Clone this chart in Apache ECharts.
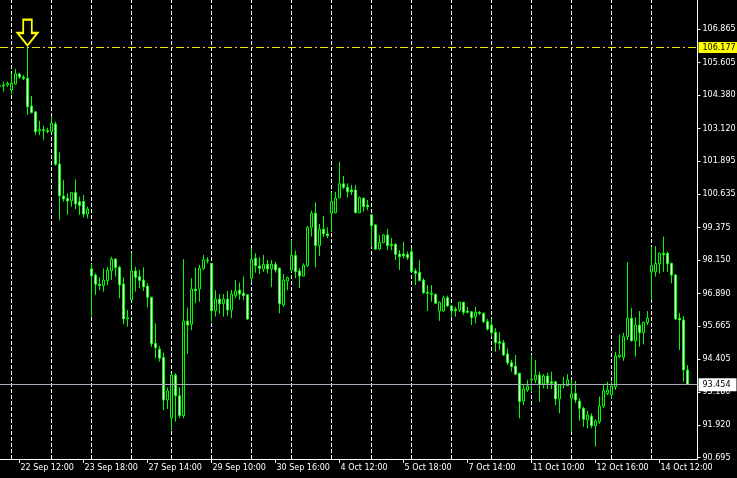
<!DOCTYPE html>
<html><head><meta charset="utf-8">
<script src="https://cdn.jsdelivr.net/npm/echarts@6/dist/echarts.min.js"></script>
<style>html,body{margin:0;padding:0;background:#000;}#c{width:737px;height:478px;}</style>
</head><body><div id="c"></div>
<script>
const opens = [104.74,104.72,104.76,104.57,104.80,105.18,105.06,105.02,103.97,103.75,103.03,103.08,103.04,103.00,103.29,101.78,100.57,100.49,100.39,100.70,100.36,100.36,99.89,
97.82,97.59,97.24,97.19,97.38,97.75,98.19,97.88,97.25,95.93,96.65,97.74,97.53,97.40,97.17,96.75,95.01,94.79,94.48,92.87,92.20,93.81,93.03,92.28,95.85,95.73,97.06,97.06,
97.84,98.16,98.03,96.24,96.68,96.52,96.68,96.27,96.81,97.02,96.90,96.84,97.47,98.22,97.93,97.81,97.99,97.82,97.99,97.84,96.46,97.36,97.78,98.33,97.74,97.55,97.94,99.39,
99.92,98.70,99.32,99.14,99.92,99.94,100.51,101.03,100.90,100.80,100.80,99.94,100.49,100.23,99.86,99.48,98.57,98.81,99.10,98.75,98.75,98.38,98.38,98.37,98.47,97.74,97.69,
97.40,96.94,96.90,96.86,96.23,96.23,96.73,96.42,96.30,96.27,96.56,96.23,96.20,96.02,96.18,96.14,95.83,95.70,95.43,95.07,95.03,94.61,94.28,94.15,93.88,92.83,93.25,93.63,
93.63,93.81,93.47,93.78,93.56,93.56,92.91,93.46,93.41,92.94,93.12,92.83,92.56,92.12,92.27,91.90,92.05,92.64,93.12,93.06,93.37,94.51,94.48,95.26,95.96,95.11,95.70,95.41,
95.80,97.71,97.71,98.01,98.41,98.41,98.03,97.59,95.96,95.89,94.00];
const closes = [104.72,104.76,104.82,104.83,105.18,105.06,105.01,103.94,103.72,103.00,103.08,103.04,103.01,103.32,101.77,100.58,100.46,100.38,100.70,100.27,100.21,99.89,100.08,
97.56,97.24,97.19,97.40,97.78,98.19,97.87,97.21,95.93,95.98,97.74,97.50,97.38,97.15,96.75,94.99,94.85,94.45,92.87,93.22,93.81,93.03,92.28,95.85,95.70,97.06,97.00,97.84,
98.16,98.13,96.24,96.68,96.50,96.68,96.27,96.87,96.99,96.87,96.81,95.93,98.18,97.94,97.84,97.99,97.82,97.99,97.78,96.50,97.40,97.49,98.33,97.71,97.55,97.96,99.39,99.92,
98.70,99.32,99.14,99.07,100.36,100.49,101.03,100.90,100.73,100.73,99.94,100.51,100.17,100.17,99.45,98.57,98.82,99.10,98.70,98.70,98.37,98.28,98.31,98.24,97.71,97.65,97.38,
96.92,96.90,96.86,96.52,96.56,96.73,96.42,96.24,96.24,96.56,96.18,96.18,95.98,96.18,96.14,95.83,95.55,95.41,95.03,95.01,94.57,94.28,94.13,93.84,92.81,93.29,93.40,93.66,
93.81,93.47,93.78,93.50,93.50,92.91,93.44,93.44,93.63,93.10,92.87,92.56,92.14,92.31,91.90,92.08,92.64,93.22,93.25,93.40,94.53,94.57,95.26,95.96,95.11,95.70,95.41,95.80,
95.96,97.94,98.03,98.41,98.35,98.01,97.59,95.93,95.89,94.00,93.454];
const lows = [104.69,104.51,104.69,104.42,104.78,105.00,104.95,103.63,103.69,102.87,102.87,102.69,102.94,102.96,101.72,99.67,100.36,99.86,100.17,100.07,99.86,99.77,99.73,
96.02,96.84,97.02,96.96,97.21,97.40,97.53,96.71,95.74,95.64,96.65,96.96,97.09,96.99,96.37,94.88,94.45,94.32,92.49,92.53,91.74,92.05,92.18,92.18,94.60,95.51,96.52,96.58,
97.78,98.03,95.83,96.02,96.12,96.02,96.05,95.96,96.71,96.65,96.65,95.89,97.34,97.68,97.63,97.71,97.65,97.13,97.68,96.14,96.39,97.02,97.70,97.47,97.09,97.53,97.90,99.04,
97.88,98.31,99.01,98.98,99.22,99.92,100.49,100.83,100.52,100.61,99.92,99.92,99.98,100.04,98.66,98.53,98.53,98.79,98.53,98.53,98.16,97.78,98.22,98.16,97.69,97.21,97.34,
96.87,96.23,96.58,96.50,95.86,96.20,96.39,96.02,96.02,96.20,96.08,96.14,95.70,95.77,96.08,95.77,95.49,95.26,94.69,94.76,94.53,94.19,93.94,93.81,92.18,92.68,93.18,93.18,
93.50,92.81,93.31,93.28,93.28,92.68,92.37,93.31,93.40,91.66,92.75,92.09,91.86,91.80,91.80,91.11,91.97,92.56,93.06,92.94,93.25,94.45,94.35,95.14,95.07,94.51,94.88,94.97,
95.70,96.65,97.53,97.65,97.71,97.71,97.28,95.89,94.76,93.56,93.43];
const highs = [104.80,104.89,104.89,105.18,105.37,105.23,105.14,106.177,104.35,103.75,103.41,103.23,103.15,103.57,103.38,102.22,101.18,100.67,100.70,101.20,100.55,100.61,100.17,
98.01,97.65,97.50,97.84,97.90,98.28,98.22,97.94,97.50,96.27,98.41,97.90,97.78,97.88,97.28,96.77,95.77,94.91,94.66,93.34,93.88,93.88,93.35,98.19,96.36,97.47,97.87,97.97,
98.35,98.26,98.03,97.02,96.87,96.87,96.99,97.02,97.40,97.31,97.53,96.87,98.60,98.41,98.26,98.35,98.16,98.16,98.09,97.88,97.63,97.53,98.91,98.51,97.84,98.03,99.44,100.02,
100.33,99.52,99.82,99.39,100.73,100.73,101.87,101.33,101.05,100.99,100.99,100.55,100.51,100.42,99.88,99.52,99.10,99.14,99.33,98.98,98.79,98.53,98.85,98.47,98.62,97.84,98.16,
97.47,97.21,97.21,96.90,96.58,96.81,96.81,96.46,96.39,96.58,96.58,96.39,96.23,96.39,96.23,96.18,95.93,95.93,95.58,95.43,95.14,94.82,94.38,94.57,93.90,93.46,93.63,94.57,
94.38,93.94,93.85,93.90,93.94,93.59,93.47,93.75,93.85,93.63,93.59,92.94,92.62,92.46,92.37,92.14,93.00,93.44,93.56,93.56,94.69,95.33,95.41,98.07,96.34,95.99,96.23,95.83,
96.23,98.66,98.68,98.43,99.04,98.47,98.05,97.63,96.16,96.04,94.19];

// time labels and the candle index each one sits on
const timeLabels = ['22 Sep 12:00','23 Sep 18:00','27 Sep 14:00','29 Sep 10:00','30 Sep 16:00','4 Oct 12:00','5 Oct 18:00','7 Oct 14:00','11 Oct 10:00','12 Oct 16:00','14 Oct 12:00'];
const timeLabelIdx = [5,21,37,53,69,85,101,117,133,149,165];
// vertical grid candle indices
const vGridIdx = [3,13,23,33,43,53,63,73,83,93,103,113,123,133,143,153,163];
// price scale ticks
const priceTicks = [90.695,91.920,93.180,94.405,95.665,96.890,98.150,99.375,100.635,101.895,103.120,104.380,105.605,106.865];
const highMark = 106.177;
const bidPrice = 93.454;
const highIdx = 7;

const ohlc = opens.map((o, i) => [i, o, closes[i], lows[i], highs[i]]);
const labelOf = {};
timeLabelIdx.forEach((k, j) => { labelOf[k] = timeLabels[j]; });

const FONT = 'DejaVu Sans';
const chart = echarts.init(document.getElementById('c'), null, {renderer: 'canvas'});
chart.setOption({
  backgroundColor: '#000000',
  animation: false,
  grid: {left: 0, right: 39.5, top: 0, bottom: 19, containLabel: false, outerBoundsMode: 'none'},
  xAxis: {
    type: 'value', min: 0.125, max: 174.5,
    axisLine: {show: true, onZero: false, lineStyle: {color: '#ffffff', width: 1}},
    axisTick: {show: true, customValues: timeLabelIdx, length: 4, lineStyle: {color: '#ffffff'}},
    axisLabel: {show: true, customValues: timeLabelIdx, formatter: v => labelOf[Math.round(v)] || '', color: '#ffffff', fontFamily: FONT, fontSize: 8, align: 'left', margin: 5, padding: [0, 0, 0, 1]},
    splitLine: {show: false}
  },
  yAxis: {
    type: 'value', position: 'right', min: 90.644, max: 107.971,
    axisLine: {show: true, onZero: false, lineStyle: {color: '#ffffff', width: 1}},
    axisTick: {show: true, customValues: priceTicks, length: 3, inside: false, lineStyle: {color: '#ffffff'}},
    axisLabel: {show: true, customValues: priceTicks, formatter: v => v.toFixed(3), color: '#ffffff', fontFamily: FONT, fontSize: 8, margin: 5},
    splitLine: {show: false}
  },
  series: [
    {
      type: 'line', data: [], z: 1, silent: true,
      markLine: {
        z: 1, silent: true, symbol: ['none', 'none'], animation: false,
        label: {show: false},
        lineStyle: {color: '#ffffff', type: [4, 2], width: 1},
        emphasis: {disabled: true},
        data: vGridIdx.map(i => ({xAxis: i}))
      }
    },
    {
      type: 'candlestick', data: ohlc, z: 3, barWidth: 2,
      dimensions: ['idx', 'open', 'close', 'lowest', 'highest'],
      encode: {x: 'idx', y: ['open', 'close', 'lowest', 'highest']},
      itemStyle: {color: '#000000', color0: '#ffffff', borderColor: '#00ff00', borderColor0: '#00ff00', borderColorDoji: '#00ff00', borderWidth: 1},
      markLine: {
        z: 5, silent: true, symbol: ['none', 'none'], animation: false,
        emphasis: {disabled: true},
        data: [
          {yAxis: highMark, lineStyle: {color: '#e6e600', type: [8, 3, 2, 3], width: 1},
            label: {show: true, position: 'end', distance: 1, formatter: highMark.toFixed(3), color: '#000000', backgroundColor: '#ffff00', padding: [2, 4, 1, 4], fontFamily: FONT, fontSize: 8}},
          {yAxis: bidPrice, lineStyle: {color: '#a3adbd', type: 'solid', width: 1},
            label: {show: true, position: 'end', distance: 1, formatter: bidPrice.toFixed(3), color: '#000000', backgroundColor: '#ffffff', padding: [3, 6, 2, 4], fontFamily: FONT, fontSize: 8}}
        ]
      },
      markPoint: {
        silent: true, animation: false,
        symbol: 'path://M6,0 L15,0 L15,14 L21,14 L10.5,27 L0,14 L6,14 Z',
        symbolSize: [20, 26], symbolOffset: [0, -15],
        itemStyle: {color: '#000000', borderColor: '#ffff00', borderWidth: 2},
        label: {show: false},
        data: [{coord: [highIdx, highMark]}]
      }
    }
  ]
});
</script></body></html>
